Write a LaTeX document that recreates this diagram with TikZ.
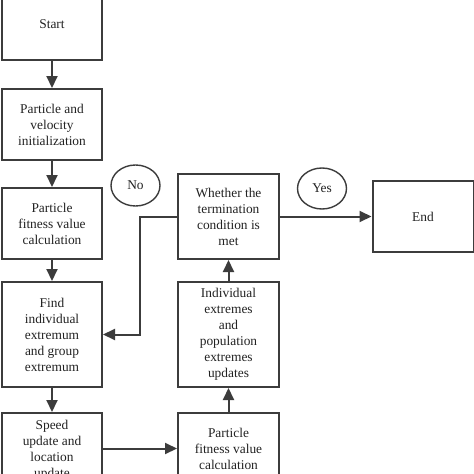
\documentclass[tikz,border=0pt]{standalone}
\usepackage{fontspec}
\setmainfont{Liberation Serif}
\usetikzlibrary{arrows.meta,shapes.geometric}
\definecolor{ln}{HTML}{3C3C3C}
\definecolor{tx}{HTML}{222222}
\tikzset{
  box/.style={draw=ln, line width=2pt, minimum width=100pt, align=center, inner sep=0pt,
    font=\fontsize{13.4}{16}\selectfont, text=tx},
  lab/.style={draw=ln, line width=1.4pt, ellipse, minimum width=49pt, minimum height=41pt, inner sep=0pt,
    font=\fontsize{13.4}{16}\selectfont, text=tx},
  arr/.style={draw=ln, line width=2pt, -{Triangle[length=12pt,width=11pt]}}
}
\begin{document}
\begin{tikzpicture}[x=1pt,y=-1pt]
\useasboundingbox (0,0) rectangle (474,474);
\clip (0,0) rectangle (474,474);
\fill[white] (0,0) rectangle (474,474);
\node[box, minimum height=71pt] (start) at (52,24.5) {Start};
\node[box, minimum height=71pt] (init) at (52,124.5) {Particle and\\velocity\\initialization};
\node[box, minimum height=71pt] (fit1) at (52,223.5) {Particle\\fitness value\\calculation};
\node[box, minimum height=105pt] (find) at (52,334.5) {Find\\individual\\extremum\\and group\\extremum};
\node[box, minimum height=74pt] (speed) at (52,450) {Speed\\update and\\location\\update};
\node[box, minimum width=101pt, minimum height=85pt] (dec) at (228.5,216.5) {Whether the\\termination\\condition is\\met};
\node[box, minimum width=101pt, minimum height=105pt] (ie) at (228.5,334.5) {Individual\\extremes\\and\\population\\extremes\\updates};
\node[box, minimum width=101pt, minimum height=71pt] (fit2) at (228.5,448.5) {Particle\\fitness value\\calculation};
\node[box, minimum width=101pt, minimum height=71pt] (end) at (423,216.5) {End};
\node[lab] (no) at (135.5,185.5) {No};
\node[lab] (yes) at (322,188.5) {Yes};
\draw[arr] (start) -- (init);
\draw[arr] (init) -- (fit1);
\draw[arr] (fit1) -- (find);
\draw[arr] (find) -- (speed);
\draw[arr] (fit2.west -| speed.east) -- (fit2.west);
\draw[arr] (fit2) -- (ie);
\draw[arr] (ie) -- (dec);
\draw[arr] (dec) -- (end);
\coordinate (bend) at (140,216.5);
\draw[arr] (dec.west) -- (bend) |- (find.east);
\end{tikzpicture}
\end{document}
